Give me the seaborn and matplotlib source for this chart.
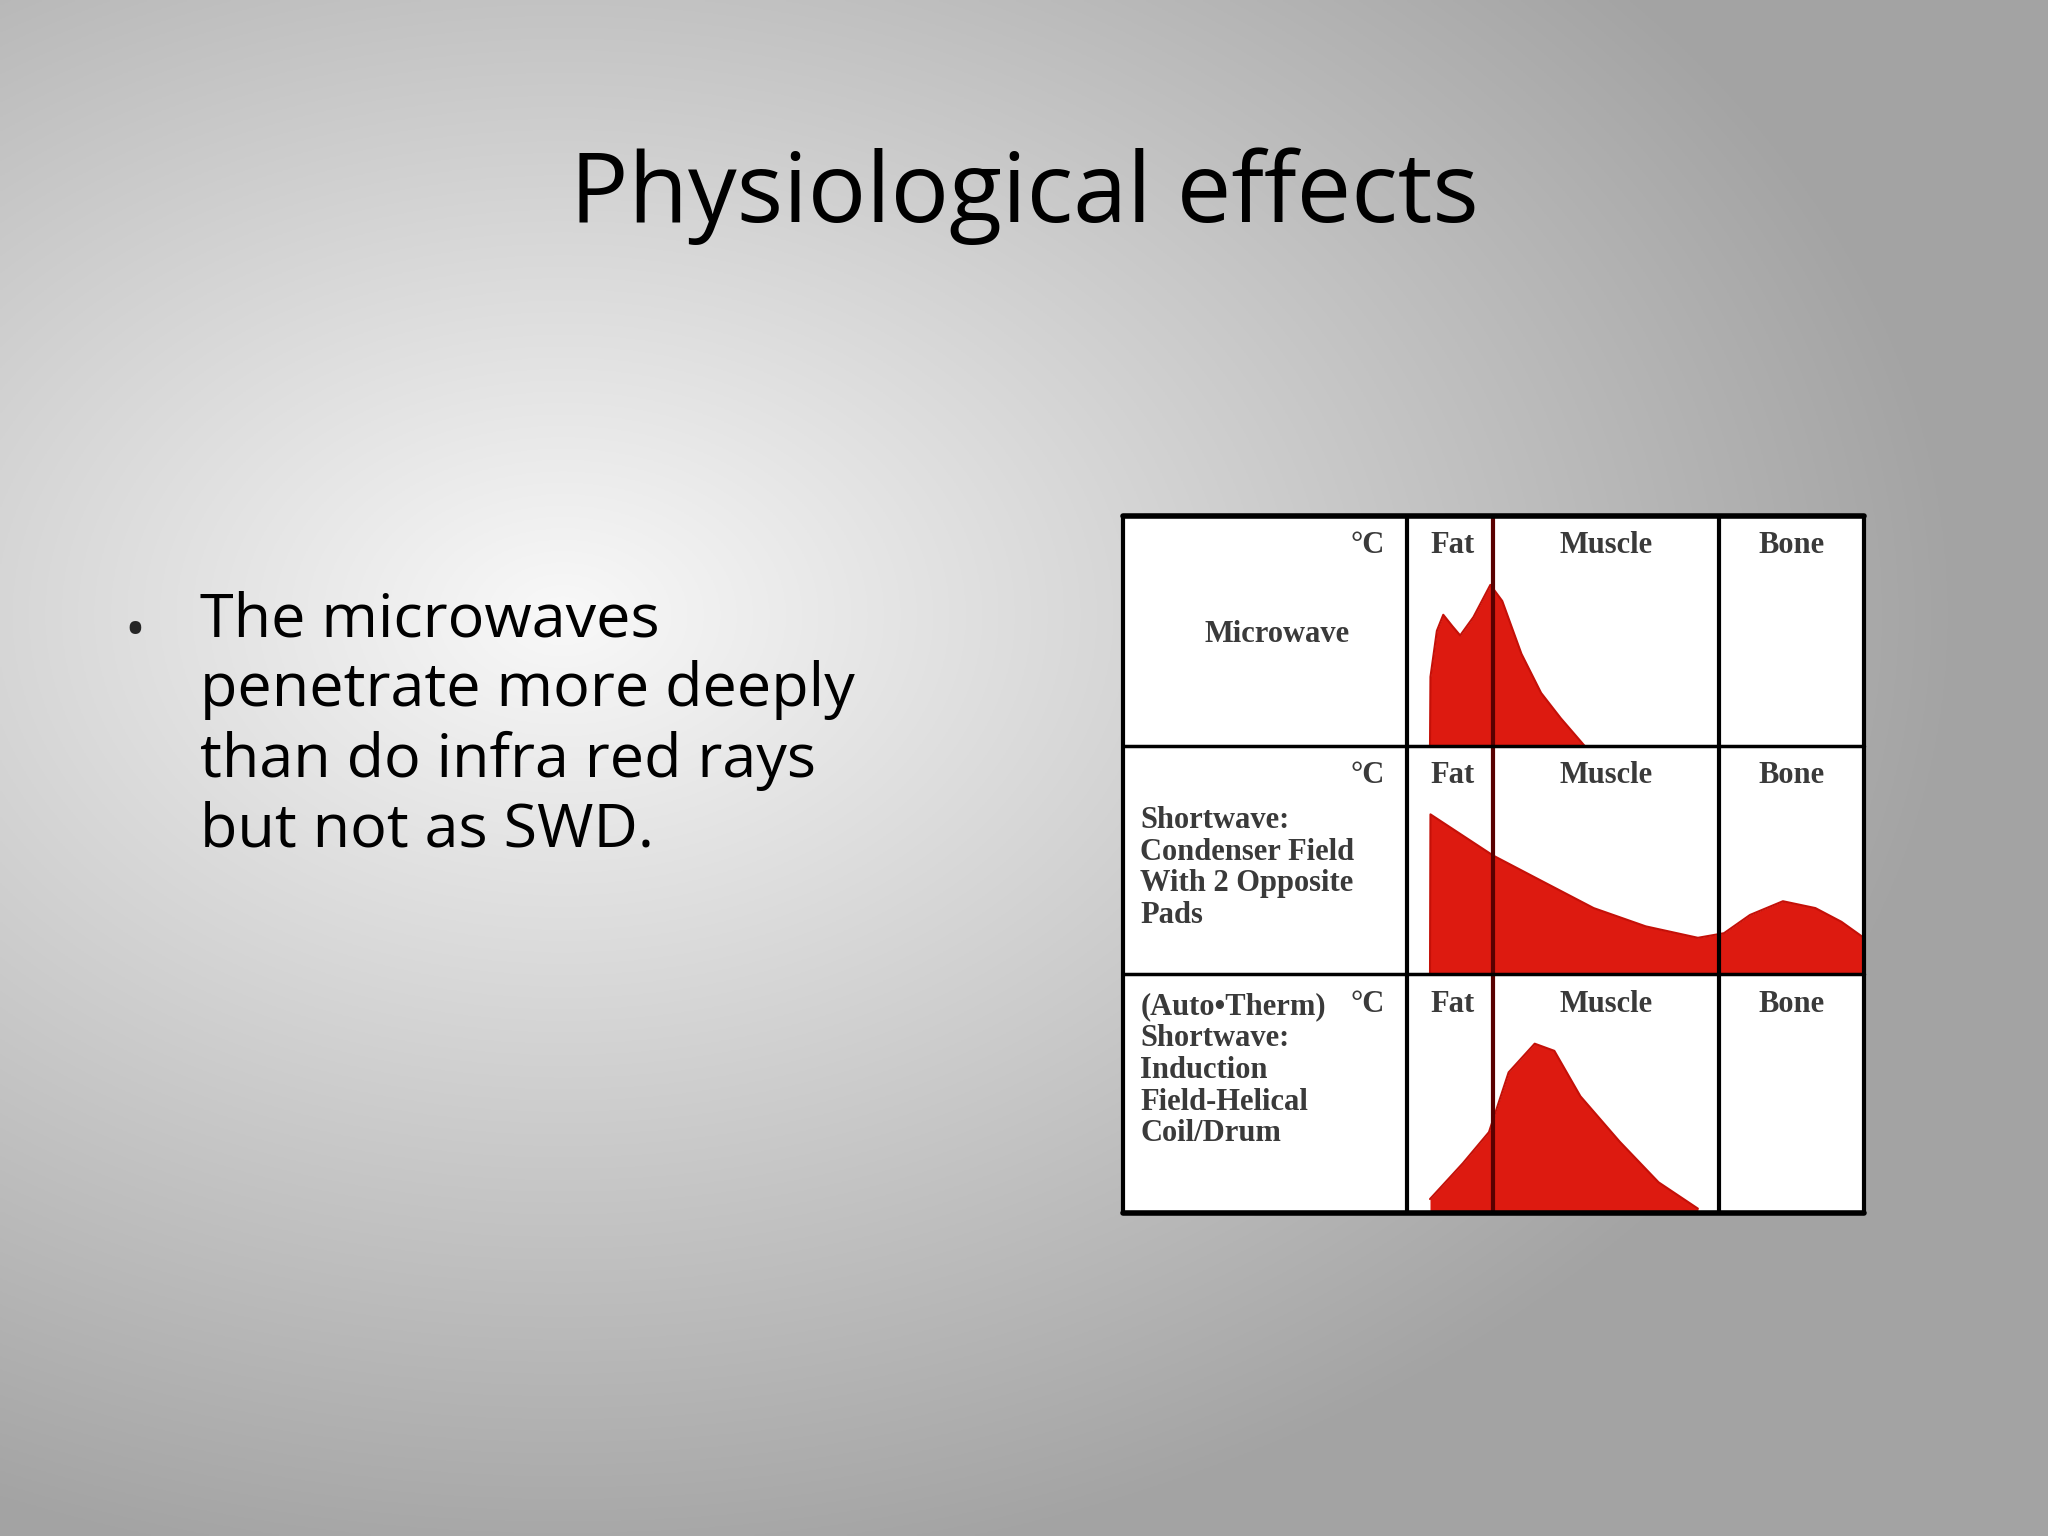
import numpy as np
import matplotlib
matplotlib.use("Agg")
import matplotlib.pyplot as plt
import seaborn as sns
from matplotlib.lines import Line2D

sns.set_theme(style="white")
plt.rcParams['font.family'] = ['Open Sans', 'DejaVu Sans']

# depth (fraction of fat+muscle+bone width) and relative temperature
mw_depth = [0.051, 0.052, 0.066, 0.08, 0.10, 0.117, 0.146, 0.183, 0.209, 0.251, 0.294, 0.337, 0.389]
mw_temp  = [0.0, 0.30, 0.50, 0.57, 0.52, 0.48, 0.56, 0.70, 0.63, 0.40, 0.23, 0.12, 0.0]
cf_depth = [0.051, 0.052, 0.189, 0.294, 0.409, 0.523, 0.637, 0.694, 0.751, 0.823, 0.894, 0.951, 1.0]
cf_temp  = [0.0, 0.70, 0.52, 0.41, 0.29, 0.21, 0.16, 0.18, 0.26, 0.32, 0.29, 0.23, 0.16]
ind_depth = [0.051, 0.123, 0.180, 0.223, 0.280, 0.323, 0.380, 0.466, 0.551, 0.637]
ind_temp  = [0.06, 0.21, 0.34, 0.59, 0.71, 0.68, 0.49, 0.30, 0.13, 0.02]
rows = [
    ("Microwave", mw_depth, mw_temp),
    ("Shortwave:\nCondenser Field\nWith 2 Opposite\nPads", cf_depth, cf_temp),
    ("(Auto•Therm)\nShortwave:\nInduction\nField-Helical\nCoil/Drum", ind_depth, ind_temp),
]
columns = ["Fat", "Muscle", "Bone"]
title = "Physiological effects"
bullet = "The microwaves\npenetrate more deeply\nthan do infra red rays\nbut not as SWD."

W, H = 1568, 1176
fig = plt.figure(figsize=(20.48, 15.36), dpi=100)

x0, xl, xf, xm, x1 = 860, 1077, 1143, 1316, 1427
ys = [395, 571, 746, 929]

# background radial gradient
bg = fig.add_axes([0, 0, 1, 1], zorder=-5)
yy, xx = np.mgrid[0:H:2, 0:W:2]
r = np.sqrt(((xx - 430) / 1150) ** 2 + ((yy - 470) / 800) ** 2)
val = np.clip(0.975 - 0.36 * r, 0.64, 1)
bg.imshow(np.dstack([val, val, val]), extent=[0, W, H, 0], aspect='auto')
bg.add_patch(plt.Rectangle((x0, ys[0]), x1 - x0, ys[3] - ys[0], facecolor='white', edgecolor='none'))
bg.set_xlim(0, W); bg.set_ylim(H, 0); bg.axis('off')

def fx(x): return x / W
def fy(y): return 1 - y / H

fig.text(fx(784), fy(150), title, ha='center', va='center', fontsize=70, color='black')
fig.text(fx(95), fy(485), "•", ha='left', va='center', fontsize=40)
fig.text(fx(153), fy(452), bullet, ha='left', va='top', fontsize=44, linespacing=1.22, color='black')

serif = ['Liberation Serif', 'DejaVu Serif']
tc = '#3a3a3a'
for i, (lab, d, t) in enumerate(rows):
    top, bot = ys[i], ys[i + 1]
    ax = fig.add_axes([fx(xl), fy(bot), fx(x1 - xl), (bot - top) / H])
    ax.fill_between(d, t, 0, color='#dd1a10', lw=0)
    sns.lineplot(x=d, y=t, ax=ax, color='#c41008', lw=1.5, sort=False)
    ax.set_xlim(0, 1); ax.set_ylim(0, 1)
    ax.axis('off'); ax.patch.set_alpha(0)
    fig.text(fx(1060), fy(top + 23), "°C", ha='right', va='center', fontsize=22, family=serif,
             color=tc, weight='bold')
    for c, cx in zip(columns, [(xl + xf) / 2 + 2, (xf + xm) / 2, (xm + x1) / 2]):
        fig.text(fx(cx), fy(top + 23), c, ha='center', va='center', fontsize=22, family=serif,
                 color=tc, weight='bold')
    if i == 0:
        fig.text(fx(978), fy(486), lab, ha='center', va='center', fontsize=22, family=serif,
                 color=tc, weight='bold')
    else:
        fig.text(fx(873), fy(top + 46 if i == 1 else top + 14), lab, ha='left', va='top', fontsize=22,
                 family=serif, color=tc, linespacing=1.12, weight='bold')

# grid lines
for x in [x0, xl, xf, xm, x1]:
    fig.lines.append(Line2D([fx(x)] * 2, [fy(ys[0]), fy(ys[3])], transform=fig.transFigure,
                            color='#5a0000' if x == xf else 'black', lw=3, zorder=5))
for y in ys:
    fig.lines.append(Line2D([fx(x0), fx(x1)], [fy(y)] * 2, transform=fig.transFigure,
                            color='black', lw=4 if y in (ys[0], ys[3]) else 2.5, zorder=5))

fig.savefig("out.png", dpi=100)
